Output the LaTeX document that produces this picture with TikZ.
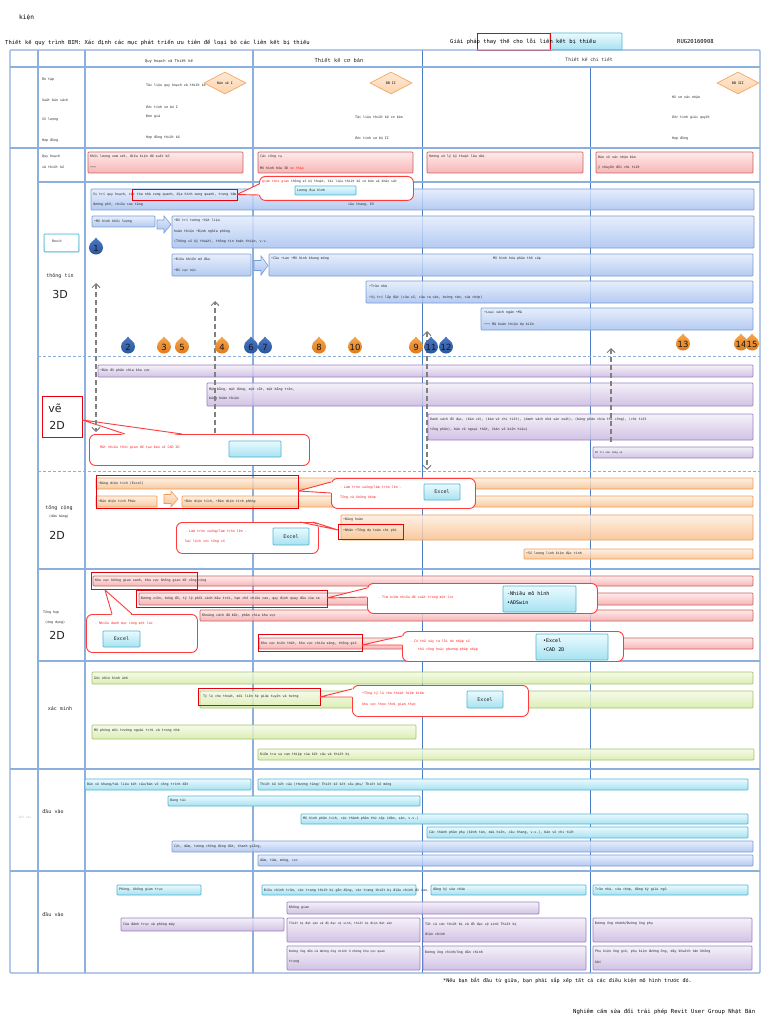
\documentclass[tikz,border=0pt]{standalone}
\usepackage{fontspec}
\usepackage{newunicodechar}
\setmainfont{DejaVu Sans Mono}
\newfontfamily\sansf{DejaVu Sans}
\newfontfamily\vnf{Liberation Mono}
\newcommand\vnswitch{\vnf}
\newcommand\VNdef[1]{\newunicodechar{#1}{{\vnswitch#1}}}
\VNdef{Ạ}\VNdef{ạ}\VNdef{Ả}\VNdef{ả}\VNdef{Ấ}\VNdef{ấ}\VNdef{Ầ}\VNdef{ầ}\VNdef{Ẩ}\VNdef{ẩ}
\VNdef{Ẫ}\VNdef{ẫ}\VNdef{Ậ}\VNdef{ậ}\VNdef{Ắ}\VNdef{ắ}\VNdef{Ằ}\VNdef{ằ}\VNdef{Ẳ}\VNdef{ẳ}
\VNdef{Ẵ}\VNdef{ẵ}\VNdef{Ặ}\VNdef{ặ}\VNdef{Ẹ}\VNdef{ẹ}\VNdef{Ẻ}\VNdef{ẻ}\VNdef{Ẽ}\VNdef{ẽ}
\VNdef{Ế}\VNdef{ế}\VNdef{Ề}\VNdef{ề}\VNdef{Ể}\VNdef{ể}\VNdef{Ễ}\VNdef{ễ}\VNdef{Ệ}\VNdef{ệ}
\VNdef{Ỉ}\VNdef{ỉ}\VNdef{Ị}\VNdef{ị}\VNdef{Ọ}\VNdef{ọ}\VNdef{Ỏ}\VNdef{ỏ}\VNdef{Ố}\VNdef{ố}
\VNdef{Ồ}\VNdef{ồ}\VNdef{Ổ}\VNdef{ổ}\VNdef{Ỗ}\VNdef{ỗ}\VNdef{Ộ}\VNdef{ộ}\VNdef{Ớ}\VNdef{ớ}
\VNdef{Ờ}\VNdef{ờ}\VNdef{Ở}\VNdef{ở}\VNdef{Ỡ}\VNdef{ỡ}\VNdef{Ợ}\VNdef{ợ}\VNdef{Ụ}\VNdef{ụ}
\VNdef{Ủ}\VNdef{ủ}\VNdef{Ứ}\VNdef{ứ}\VNdef{Ừ}\VNdef{ừ}\VNdef{Ử}\VNdef{ử}\VNdef{Ữ}\VNdef{ữ}
\VNdef{Ự}\VNdef{ự}\VNdef{Ỳ}\VNdef{ỳ}\VNdef{Ỵ}\VNdef{ỵ}\VNdef{Ỷ}\VNdef{ỷ}\VNdef{Ỹ}\VNdef{ỹ}
\usetikzlibrary{shapes.geometric,arrows.meta}
\newcommand\fs[1]{\fontsize{#1}{#1}\selectfont}
\definecolor{tline}{HTML}{8DAFDC}
\definecolor{tline2}{HTML}{4A7DC6}
\definecolor{bluetop}{HTML}{E3ECFC}\definecolor{bluebot}{HTML}{A8C2F0}\definecolor{bluedr}{HTML}{7A9CD6}
\definecolor{pinktop}{HTML}{FFE8E8}\definecolor{pinkbot}{HTML}{F6A9A9}\definecolor{pinkdr}{HTML}{C86462}
\definecolor{orgtop}{HTML}{FEEEE0}\definecolor{orgbot}{HTML}{F9C08C}\definecolor{orgdr}{HTML}{F29B55}
\definecolor{purtop}{HTML}{F3EFF8}\definecolor{purbot}{HTML}{CAB8E0}\definecolor{purdr}{HTML}{9B82BF}
\definecolor{grntop}{HTML}{F4FAE6}\definecolor{grnbot}{HTML}{D6EBA9}\definecolor{grndr}{HTML}{A7C46B}
\definecolor{cyantop}{HTML}{EAFAFE}\definecolor{cyanbot}{HTML}{A6E2F2}\definecolor{cyandr}{HTML}{52B5CF}
\definecolor{hlred}{HTML}{E8000B}
\definecolor{cored}{HTML}{FF3B3B}
\definecolor{redtxt}{HTML}{FF1A1A}
\definecolor{dgray}{HTML}{808080}
\definecolor{droptop}{HTML}{F7A64B}\definecolor{dropbot}{HTML}{DF7B1E}
\definecolor{dbltop}{HTML}{4A78C8}\definecolor{dblbot}{HTML}{2B569A}
\definecolor{diafill}{HTML}{FCD3AC}\definecolor{diadr}{HTML}{F2A765}
\tikzset{
 tl/.style={draw=tline, line width=1.3pt},
 tlb/.style={draw=tline2, line width=0.9pt},
 tx/.style={anchor=west, inner sep=0pt, font=\fs{3.3}, text=black!85},
 rtx/.style={tx, text=redtxt},
 ctx/.style={anchor=center, inner sep=0pt, text=black!85},
 bx/.style={anchor=north west, inner sep=0pt, outer sep=0pt, rounded corners=0.8pt, line width=0.7pt, fill opacity=0.85},
 bb/.style={bx, draw=bluedr, top color=bluetop, bottom color=bluebot},
 pb/.style={bx, draw=pinkdr, top color=pinktop, bottom color=pinkbot},
 ob/.style={bx, draw=orgdr, top color=orgtop, bottom color=orgbot},
 vb/.style={bx, draw=purdr, top color=purtop, bottom color=purbot},
 gb/.style={bx, draw=grndr, top color=grntop, bottom color=grnbot},
 cb/.style={bx, draw=cyandr, top color=cyantop, bottom color=cyanbot, fill opacity=1},
 hl/.style={anchor=north west, inner sep=0pt, draw=hlred, line width=1.4pt},
 co/.style={anchor=north west, inner sep=0pt, draw=cored, line width=0.9pt, fill=white, rounded corners=6pt},
 dia/.style={diamond, draw=diadr, line width=0.7pt, top color=diafill!50, bottom color=diafill, inner sep=0pt, minimum width=42pt, minimum height=22pt, font=\fs{3.3}},
 darr/.style={draw=dgray, line width=1.3pt, dash pattern=on 5pt off 3pt},
 vtip/.style={-{Straight Barb[length=4pt,width=8pt,line width=1pt]}},
 bothtip/.style={{Straight Barb[length=4pt,width=8pt,line width=1pt]}-{Straight Barb[length=4pt,width=8pt,line width=1pt]}},
 dor/.style={top color=droptop, bottom color=dropbot},
 dbl/.style={top color=dbltop, bottom color=dblbot},
 dnum/.style={inner sep=0pt, font=\sansf\fs{8.5}, text=black!90},
 big/.style={ctx, font=\sansf\fs{11}\let\vnswitch\relax},
 lab/.style={ctx, font=\fs{5}},
}
\newcommand\B[6]{\node[#1, minimum width={(#5-#3)*1pt}, minimum height={(#6-#4)*1pt}] (#2) at (#3,#4) {};}
\newcommand\T[4]{\node[tx] (#1) at (#2,#3) {#4};}
\newcommand\RT[4]{\node[rtx] (#1) at (#2,#3) {#4};}
\newcommand\PT[8]{%
 \fill[white] (#1+#7,#2+#8) -- (#5,#6) -- (#3+#7,#4+#8) -- cycle;
 \draw[cored, line width=0.9pt, line join=round] (#1,#2) -- (#5,#6) -- (#3,#4);}
\newcommand\DROP[5]{%
 \begin{scope}[shift={(#1,#2)}]
 \path[#3] (0,-8.5) .. controls (1.5,-5) and (7,-4) .. (7,1.5) .. controls (7,5.8) and (3.8,8.5) .. (0,8.5) .. controls (-3.8,8.5) and (-7,5.8) .. (-7,1.5) .. controls (-7,-4) and (-1.5,-5) .. (0,-8.5) -- cycle;
 \node[dnum] (#5) at (0,2) {#4};
 \end{scope}}
\newcommand\BARR[8]{% x0 x1 xh yc h1 h2 style
 \path[#7] (#1,#4-#5) -- (#3,#4-#5) -- (#3,#4-#6) -- (#2,#4) -- (#3,#4+#6) -- (#3,#4+#5) -- (#1,#4+#5) -- cycle;}
\begin{document}
\begin{tikzpicture}[x=1pt,y=-1pt]
\fill[white] (0,0) rectangle (768,1024);
\useasboundingbox (0,0) rectangle (768,1024);

% ---------- header ----------
\node[anchor=west, inner sep=0pt, font=\fs{6.2}] (kien) at (19,18) {kiện};
\node[anchor=west, inner sep=0pt, font=\fs{5.5}] (title) at (5,42.5) {Thiết kế quy trình BIM: Xác định các mục phát triển ưu tiên để loại bỏ các liên kết bị thiếu};
\B{cb}{hdrc}{550}{33}{622}{50}
\B{hl}{hdrr}{477}{33}{550}{50}
\node[anchor=west, inner sep=0pt, font=\fs{5.5}] (alt) at (450,41.5) {Giải pháp thay thế cho lỗi liên kết bị thiếu};
\node[anchor=west, inner sep=0pt, font=\fs{5.5}] (rug) at (677,41.5) {RUG20160908};

% ---------- table ----------
\draw[tl] (38,50) -- (38,973) (85,50) -- (85,973) (253,50) -- (253,973);
\draw[tlb] (422,50) -- (422,973) (590,67) -- (590,973);
\draw[tl] (10,67) -- (760,67) (10,148) -- (760,148) (38,182) -- (760,182)
 (38,569) -- (760,569) (38,661) -- (760,661) (10,769) -- (760,769) (10,871) -- (760,871);
\draw[draw=tline, line width=0.8pt, dash pattern=on 3pt off 2pt] (38,356) -- (760,356) (38,471) -- (760,471);
\draw[tl, rounded corners=1pt] (10,50) rectangle (760,973);

\node[ctx, font=\fs{3.8}] (h1) at (169,61) {Quy hoạch và Thiết kế};
\node[ctx, font=\fs{5.4}] (h2) at (339,60) {Thiết kế cơ bản};
\node[ctx, font=\fs{4.6}] (h3) at (589,60) {Thiết kế chi tiết};

% row 1
\T{r1a}{42}{79}{Ôn tập}
\T{r1b}{42}{100}{Xuất bản sách}
\T{r1c}{42}{120}{Số lượng}
\T{r1d}{42}{141}{Hợp đồng}
\T{p1a}{146}{86}{Tài liệu quy hoạch và thiết kế}
\node[dia] (dia1) at (225,83) {Bản vẽ I};
\T{p1b}{146}{107}{Ước tính sơ bộ I}
\T{p1c}{146}{117}{Đơn giá}
\T{p1d}{146}{138}{Hợp đồng thiết kế}
\node[dia] (dia2) at (391,83) {ĐB II};
\T{p2a}{355}{117}{Tài liệu thiết kế cơ bản}
\T{p2b}{355}{138}{Ước tính sơ bộ II}
\node[dia] (dia3) at (738,83) {ĐB III};
\T{p3a}{672}{97}{Hồ sơ xác nhận}
\T{p3b}{672}{118}{Ước tính giải quyết}
\T{p3c}{672}{139}{Hợp đồng}

% row 2
\T{r2a}{42}{157}{Quy hoạch}
\T{r2b}{42}{167}{và thiết kế}
\B{pb}{q1}{88}{152}{243}{173}
\T{q1a}{90}{157}{Khối lượng xem xét, điều kiện để xuất bố}
\T{q1b}{90}{168}{•••}
\B{pb}{q2}{258}{152}{413}{173}
\T{q2a}{260}{157}{Các công cụ}
\T{q2b}{260}{168}{Mô hình hóa 3D \textcolor{redtxt}{sơ thảo}}
\B{pb}{q3}{427}{152}{583}{173}
\T{q3a}{429}{157}{Hướng xử lý kỹ thuật lâu dài}
\B{pb}{q4}{596}{152}{753}{173}
\T{q4a}{598}{157}{Bản vẽ xác nhận bản}
\T{q4b}{598}{168}{ý chuyển đổi chi tiết}

% ---------- 3D ----------
\B{cb}{revit}{44}{234}{79}{252}
\node[anchor=north west, inner sep=0pt, minimum width=33pt, minimum height=16pt, fill=white] (revw) at (45,235) {};
\T{revt}{52}{241}{Revit}
\node[lab] (l3a) at (60,276) {thông tin};
\node[big] (l3b) at (60,294) {3D};

\B{bb}{b1}{91}{189}{754}{210}
\T{b1a}{93}{195}{Vị trí quy hoạch, các tòa nhà xung quanh, địa hình xung quanh, trung tâm}
\T{b1b}{93}{205}{đường phố, chiều cao tầng}
\T{b1c}{348}{205}{cầu thang, EV}
\B{bb}{b2}{92}{216}{155}{227}
\T{b2a}{94}{221.5}{•Mô hình khối lượng}
\BARR{157}{171}{164}{224.5}{4.5}{8.5}{draw=bluedr, line width=0.6pt, top color=bluetop, bottom color=bluebot}{}
\B{bb}{b3}{172}{216}{754}{248}
\T{b3a}{174}{221}{•Bố trí tường •Vật liệu}
\T{b3b}{174}{232}{hoàn thiện •Định nghĩa phòng}
\T{b3c}{174}{242}{(Thông số kỹ thuật), thông tin hoàn thiện, v.v.}
\B{bb}{b4}{172}{254}{251}{276}
\T{b4a}{174}{259}{•Điều khiển mở đầu}
\T{b4b}{174}{270}{•Bố cục nội}
\BARR{254}{268}{261}{265.5}{5}{9.5}{draw=bluedr, line width=0.6pt, top color=bluetop, bottom color=bluebot}{}
\B{bb}{b5}{269}{254}{753}{276}
\T{b5a}{271}{259}{•Cầu •Lan •Mô hình khung móng}
\T{b5b}{493}{259}{Mô hình hóa phần thô cấp}
\B{bb}{b6}{366}{281}{753}{303}
\T{b6a}{369}{286}{•Trần nhà}
\T{b6b}{369}{297}{•Vị trí lắp đặt (cửa sổ, cửa ra vào, tường rèm, cửa chớp)}
\B{bb}{b7}{481}{308}{753}{330}
\T{b7a}{484}{313}{•Loại vách ngăn •Mã}
\T{b7b}{484}{324}{••• Mã hoàn thiện dự kiến}

% callout 3D
\B{hl}{hlA}{132}{189}{237}{200}
\node[co, minimum width=154pt, minimum height=24pt] (coA) at (259,176) {};
\PT{259}{184}{259}{195}{237}{194.5}{1.5}{0}
\B{cb}{coAc}{295}{186}{356}{195}
\node[tx, font=\fs{3.2}] (coAt) at (262,182) {\textcolor{redtxt}{giảm thời gian} thông số kỹ thuật, tài liệu thiết kế cơ bản và khảo sát};
\T{coAc2}{297}{190.5}{Lượng địa hình}

% ---------- 2D drawings ----------
\B{vb}{v1}{98}{365}{753}{377}
\T{v1a}{100}{371}{•Bản đồ phân chia khu vực}
\B{vb}{v2}{207}{383}{753}{406}
\T{v2a}{209}{389}{Mặt bằng, mặt đứng, mặt cắt, mặt bằng trần,}
\T{v2b}{209}{399}{bảng hoàn thiện}
\B{vb}{v3}{428}{414}{753}{440}
\T{v3a}{430}{420}{Danh sách đồ đạc, (bản vẽ), (bản vẽ chi tiết), (danh sách nhà sản xuất), (bảng phân chia thi công), (chi tiết}
\T{v3b}{430}{430}{tổng phần), bản vẽ ngoại thất, (bản vẽ biển hiệu)}
\B{vb}{v4}{593}{447}{753}{458}
\node[tx, font=\fs{2.5}] (v4a) at (595,452.5) {Bố trí sàn nâng sẽ};

\node[hl, minimum width=40pt, minimum height=41pt, fill=white] (ve2d) at (42,396) {};
\node[big] (ve2da) at (55,408) {vẽ};
\node[big] (ve2db) at (57,425) {2D};
\node[co, minimum width=220pt, minimum height=31pt] (coB) at (89,434) {};
\PT{125}{434}{182}{434}{82.5}{420}{0}{1.5}
\RT{coBt}{100}{448}{Mất nhiều thời gian để tạo bản vẽ CAD 2D}
\B{cb}{coBc}{229}{441}{281}{457}

% ---------- totals 2D ----------
\node[lab] (l5a) at (59,508) {tổng cộng};
\node[ctx, font=\fs{3.3}] (l5b) at (59,517) {(dân bảng)};
\node[big] (l5c) at (57,535) {2D};
\B{ob}{o1}{96}{478}{753}{489}
\T{o1a}{98}{483.5}{•Bảng diện tích (Excel)}
\B{ob}{o2}{96}{496}{157}{507}
\T{o2a}{98}{501.5}{•Bản diện tích Phác}
\BARR{164}{178}{171}{499}{4.5}{8}{draw=orgdr, line width=0.6pt, top color=orgtop, bottom color=orgbot}{}
\B{ob}{o3}{182}{496}{753}{507}
\T{o3a}{184}{501.5}{•Bản diện tích, •Bản diện tích phòng}
\B{ob}{o4}{341}{515}{753}{540}
\T{o4a}{343}{520}{•Bảng hoàn}
\T{o4b}{343}{531}{•Nhãn •Tổng dự toán chi phí}
\B{ob}{o5}{524}{549}{753}{559}
\T{o5a}{526}{554}{•Số lượng linh kiện đặc tính}
\B{hl}{hlB}{96}{475}{298}{508}
\B{hl}{hlC}{338}{524}{403}{539}

\node[co, minimum width=144pt, minimum height=30pt] (coC) at (331,478) {};
\PT{331}{482}{331}{493}{298}{491}{1.5}{0}
\RT{coCt1}{340}{488}{- Làm tròn xuống/làm tròn lên -}
\RT{coCt2}{340}{498}{Tổng và không khớp}
\B{cb}{coCc}{424}{484}{460}{500}
\node[ctx, font=\fs{5}] (coCx) at (coCc.center) {Excel};

\node[co, minimum width=142pt, minimum height=31pt] (coD) at (176,522) {};
\PT{300}{522}{313}{522}{338}{530}{0}{1.5}
\RT{coDt1}{185}{532}{- Làm tròn xuống/làm tròn lên -}
\RT{coDt2}{185}{542}{Sai lệch với tổng số}
\B{cb}{coDc}{273}{528}{309}{545}
\node[ctx, font=\fs{5}] (coDx) at (coDc.center) {Excel};

% ---------- summary 2D ----------
\node[tx] (l6a) at (43,613) {Tổng hợp};
\node[tx] (l6b) at (45,623) {(ứng dụng)};
\node[big] (l6c) at (57,635) {2D};
\B{pb}{k1}{93}{576}{753}{586}
\T{k1a}{95}{581}{Khu vực không gian xanh, khu vực không gian để công cộng}
\B{pb}{k2}{139}{593}{753}{605}
\T{k2a}{141}{599}{Đường viền, bóng đổ, tỷ lệ phối cảnh bầu trời, hạn chế chiều cao, quy định quay đầu của xe}
\B{pb}{k3}{200}{610}{753}{621}
\T{k3a}{202}{615.5}{Khoảng cách đã bắt, phân chia khu vực}
\B{pb}{k4}{259}{638}{753}{649}
\T{k4a}{261}{643.5}{Khu vực biến thất, khu vực chiếu sáng, thông gió}
\B{hl}{hlD}{91}{572}{197}{589}
\B{hl}{hlE}{136}{590}{327}{607}
\B{hl}{hlF}{258}{634}{362}{651}

\node[co, minimum width=111pt, minimum height=38pt] (coE) at (86,614) {};
\PT{112}{614}{132}{614}{105}{590}{0}{1.5}
\RT{coEt}{95}{624}{- Nhiều danh mục cùng một lúc}
\B{cb}{coEc}{103}{631}{140}{647}
\node[ctx, font=\fs{5}] (coEx) at (coEc.center) {Excel};

\node[co, minimum width=230pt, minimum height=30pt] (coF) at (367,583) {};
\PT{367}{588}{367}{597}{327}{598}{1.5}{0}
\RT{coFt}{378}{598}{- Tìm kiếm nhiều đề xuất trong một lúc}
\B{cb}{coFc}{503}{586}{576}{612}
\node[anchor=west, inner sep=0pt, font=\fs{5}] (coFa) at (507,594) {-Nhiều mô hình};
\node[anchor=west, inner sep=0pt, font=\fs{5}] (coFb) at (507,603) {•ADSwin};

\node[co, minimum width=221pt, minimum height=30pt] (coG) at (402,631) {};
\PT{402}{636}{402}{645}{362}{645}{1.5}{0}
\RT{coGt1}{410}{641}{- Có thể xảy ra lỗi do nhập số}
\RT{coGt2}{418}{650}{thủ công hoặc phương pháp nhập}
\B{cb}{coGc}{536}{634}{608}{660}
\node[anchor=west, inner sep=0pt, font=\fs{5}] (coGa) at (543,641) {•Excel};
\node[anchor=west, inner sep=0pt, font=\fs{5}] (coGb) at (543,650) {•CAD 2D};

% ---------- verification ----------
\node[lab] (l7) at (60,709) {xác minh};
\B{gb}{g1}{92}{672}{753}{684}
\T{g1a}{94}{678}{Góc nhìn hình ảnh}
\B{gb}{g2}{200}{691}{753}{708}
\T{g2a}{203}{697}{Tỷ lệ che thoát, mối liên hệ giữa tuyến và tường}
\B{hl}{hlG}{198}{688}{320}{705}
\node[co, minimum width=176pt, minimum height=31pt] (coH) at (352,685) {};
\PT{352}{689}{352}{697}{320}{697}{1.5}{0}
\RT{coHt1}{362}{694}{•Tổng tỷ lệ che thoát hiểm kiểm}
\RT{coHt2}{362}{705}{khu vực theo thời gian thực}
\B{cb}{coHc}{467}{691}{503}{708}
\node[ctx, font=\fs{5}] (coHx) at (coHc.center) {Excel};
\B{gb}{g3}{92}{725}{416}{739}
\T{g3a}{94}{731}{Mô phỏng môi trường ngoài trời và trong nhà}
\B{gb}{g4}{258}{749}{754}{760}
\T{g4a}{260}{754.5}{Kiểm tra sự can thiệp của kết cấu và thiết bị}

% ---------- input 1 ----------
\node[lab] (l8) at (53,812) {đầu vào};
\node[ctx, font=\fs{3}, text=black!25] (l8x) at (25,817) {kết cấu};
\B{cb}{s1}{85}{779}{251}{790}
\T{s1a}{87}{784.5}{Bản vẽ khung/tài liệu kết cấu/bản vẽ công trình đất}
\B{cb}{s2}{258}{779}{748}{790}
\T{s2a}{260}{784.5}{Thiết kế kết cấu (thượng tầng/ Thiết kế kết cấu phụ/ Thiết kế móng}
\B{cb}{s3}{168}{796}{420}{806}
\T{s3a}{170}{801}{Bảng tải}
\B{cb}{s4}{301}{814}{748}{824}
\T{s4a}{303}{819}{Mô hình phân tích, các thành phần thứ cấp (dầm, sàn, v.v.)}
\B{cb}{s5}{427}{827}{748}{838}
\T{s5a}{429}{832.5}{Các thành phần phụ (kênh tàn, mái hiên, cầu thang, v.v.), bản vẽ chi tiết}
\B{bb}{s6}{172}{841}{753}{852}
\T{s6a}{174}{846.5}{Cột, dầm, tường chống động đất, thanh giằng,}
\B{bb}{s7}{258}{855}{753}{866}
\T{s7a}{260}{860.5}{dầm, tấm, móng, cọc}

% ---------- input 2 ----------
\node[lab] (l9) at (53,915) {đầu vào};
\B{cb}{m1}{117}{885}{201}{895}
\T{m1a}{119}{890}{Phòng, không gian trục}
\B{cb}{m2}{262}{885}{416}{895}
\T{m2a}{264}{890}{Điều chỉnh trần, các trang thiết bị gắn động, các trang thiết bị điều chỉnh độ cao,}
\B{cb}{m3}{431}{885}{586}{895}
\T{m3a}{433}{890}{đăng ký sửa chữa}
\B{cb}{m4}{593}{885}{748}{895}
\T{m4a}{595}{890}{Trần nhà, cửa chớp, đăng ký giải ngũ}
\B{vb}{m5}{287}{902}{539}{914}
\T{m5a}{289}{907.5}{Không gian}
\B{vb}{m6}{121}{918}{284}{931}
\T{m6a}{123}{924.5}{Cửa đánh trục và phòng máy}
\B{vb}{m7}{287}{918}{420}{942}
\node[tx, font=\fs{3}] (m7a) at (289,924) {Thiết bị đặt sàn và đồ đạc vệ sinh, thiết bị điện đặt sàn};
\B{vb}{m8}{423}{918}{586}{942}
\T{m8a}{425}{924}{Tất cả các thiết bị và đồ đạc vệ sinh Thiết bị}
\T{m8b}{425}{934}{điện chính}
\B{vb}{m9}{593}{918}{752}{942}
\T{m9a}{595}{924}{Đường ống nhánh/Đường ống phụ}
\B{vb}{m10}{287}{946}{420}{970}
\node[tx, font=\fs{3}] (m10a) at (289,952) {Đường ống dẫn và đường ống chính ở những khu vực quan};
\T{m10b}{289}{962}{trọng}
\B{vb}{m11}{423}{946}{586}{970}
\T{m11a}{425}{952}{Đường ống chính/ống dẫn chính}
\B{vb}{m12}{593}{946}{752}{970}
\T{m12a}{595}{952}{Phụ kiện ống gió, phụ kiện đường ống, dây khuếch tán không}
\T{m12b}{595}{962}{khí}

% ---------- dashed arrows ----------
\coordinate (a1t) at (96,283); \coordinate (a1b) at (96,432);
\coordinate (a2t) at (215,301); \coordinate (a2b) at (215,433);
\coordinate (a3t) at (427,331); \coordinate (a3b) at (427,470);
\coordinate (a4t) at (611,348); \coordinate (a4b) at (611,442);
\draw[darr, bothtip] (a1t) -- (a1b);
\draw[darr, vtip] (a2b) -- (a2t);
\draw[darr, bothtip] (a3t) -- (a3b);
\draw[darr, vtip] (a4b) -- (a4t);

% ---------- droplets ----------
\DROP{96}{246}{dbl}{1}{n1}
\DROP{128}{345}{dbl}{2}{n2}
\DROP{164}{345}{dor}{3}{n3}
\DROP{182}{345}{dor}{5}{n5}
\DROP{222}{345}{dor}{4}{n4}
\DROP{251}{345}{dbl}{6}{n6}
\DROP{265}{345}{dbl}{7}{n7}
\DROP{319}{345}{dor}{8}{n8}
\DROP{355}{345}{dor}{10}{n10}
\DROP{416}{345}{dor}{9}{n9}
\DROP{431}{345}{dbl}{11}{n11}
\DROP{446}{345}{dbl}{12}{n12}
\DROP{683}{342}{dor}{13}{n13}
\DROP{741}{342}{dor}{14}{n14}
\DROP{752}{342}{dor}{15}{n15}

% ---------- footer ----------
\node[anchor=west, inner sep=0pt, font=\fs{5.1}] (foot1) at (443,981) {*Nếu bạn bắt đầu từ giữa, bạn phải sắp xếp tất cả các điều kiện mô hình trước đó.};
\node[anchor=west, inner sep=0pt, font=\fs{5.6}] (foot2) at (573,1012) {Nghiêm cấm sửa đổi trái phép Revit User Group Nhật Bản};
\end{tikzpicture}
\end{document}
